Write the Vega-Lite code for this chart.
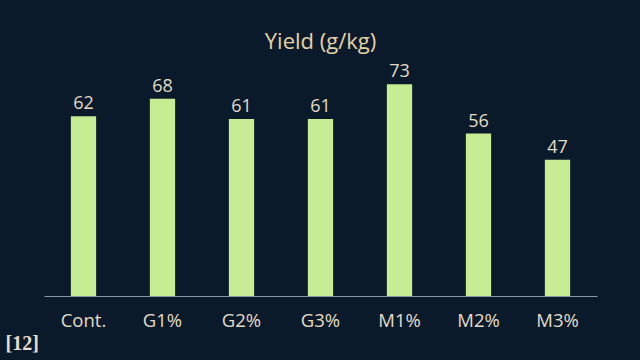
{
  "$schema": "https://vega.github.io/schema/vega-lite/v6.json",
  "width": 553,
  "height": 232,
  "autosize": {"type": "none"},
  "padding": {"left": 44, "top": 64, "right": 43, "bottom": 64},
  "background": "#0b1a2a",
  "config": {"view": {"stroke": null}, "font": "Open Sans"},
  "title": {"text": "Yield (g/kg)", "fontSize": 22, "fontWeight": "normal", "color": "#e3d4a8", "font": "Open Sans", "anchor": "middle", "offset": 9},
  "data": {"values": [
    {"group": "Cont.", "yield": 62},
    {"group": "G1%", "yield": 68},
    {"group": "G2%", "yield": 61},
    {"group": "G3%", "yield": 61},
    {"group": "M1%", "yield": 73},
    {"group": "M2%", "yield": 56},
    {"group": "M3%", "yield": 47}
  ]},
  "encoding": {
    "x": {"field": "group", "type": "nominal", "sort": null,
      "scale": {"paddingInner": 0.68, "paddingOuter": 0.34},
      "axis": {"title": "[12]", "titleAnchor": "start", "titleAlign": "left", "titleX": -39, "titleY": 53, "titleBaseline": "alphabetic",
        "titleFont": "Liberation Serif", "titleFontSize": 20, "titleFontWeight": "bold", "titleColor": "#e6dfcc",
        "labelAngle": 0, "labelFontSize": 18.5, "labelColor": "#e3dcc6", "labelPadding": 15, "ticks": false,
        "domainColor": "#8a98a6", "domainWidth": 1.2, "labelFont": "Open Sans"}},
    "y": {"field": "yield", "type": "quantitative", "scale": {"domain": [0, 80]}, "axis": null}
  },
  "layer": [
    {"mark": {"type": "bar", "color": "#c6ec94"}},
    {"mark": {"type": "text", "baseline": "alphabetic", "dy": -7, "fontSize": 18, "color": "#e3dcc6", "font": "Open Sans"},
     "encoding": {"text": {"field": "yield", "type": "quantitative"}}}
  ]
}
